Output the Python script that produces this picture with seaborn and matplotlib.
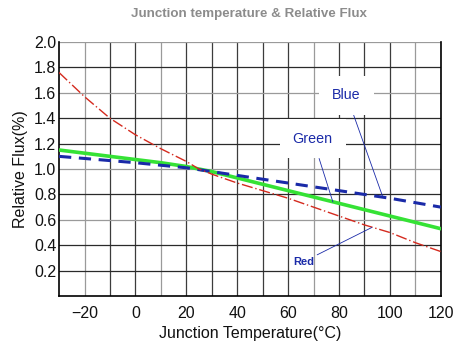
import matplotlib
matplotlib.use("Agg")
import matplotlib.pyplot as plt
import seaborn as sns
import pandas as pd
import numpy as np

sns.set_theme(style="white")
plt.rcParams['font.family'] = ['Liberation Sans', 'DejaVu Sans']

red_t = [-30, -20, -10, 0, 10, 20, 25, 30, 40, 50, 60, 70, 80, 90, 100, 110, 120]
red_v = [1.76, 1.57, 1.40, 1.27, 1.16, 1.06, 1.00, 0.96, 0.89, 0.83, 0.77, 0.70, 0.63, 0.56, 0.50, 0.42, 0.35]

green_t = [-30, -10, 10, 20, 30, 40, 50, 60, 70, 80, 90, 100, 110, 120]
green_v = [1.15, 1.10, 1.05, 1.02, 0.98, 0.93, 0.88, 0.83, 0.78, 0.73, 0.68, 0.63, 0.58, 0.53]

blue_t = [-30, 0, 20, 30, 40, 60, 80, 100, 120]
blue_v = [1.10, 1.05, 1.01, 0.98, 0.95, 0.89, 0.83, 0.77, 0.70]

x_ticks = [-20, 0, 20, 40, 60, 80, 100, 120]
y_ticks = [0.2, 0.4, 0.6, 0.8, 1.0, 1.2, 1.4, 1.6, 1.8, 2.0]

fig = plt.figure(figsize=(4.65, 3.45), dpi=100)
ax = fig.add_axes([0.127, 0.142, 0.821, 0.736])

# grid (mixed grey / dark lines as in the scanned original)
light_v = {-20, 10, 70, 110}
for gx in range(-20, 121, 10):
    ax.axvline(gx, color='#9a9a9a' if gx in light_v else '#3c3c3c', lw=0.9, zorder=0)
light_h = {0.6, 1.0, 1.6, 2.0}
for gy in [0.2, 0.4, 0.6, 0.8, 1.0, 1.2, 1.4, 1.6, 1.8, 2.0]:
    ax.axhline(gy, color='#9a9a9a' if gy in light_h else '#2a2a2a', lw=0.9, zorder=0)

sns.lineplot(x=green_t, y=green_v, ax=ax, color='#35e235', lw=2.6, zorder=3)
sns.lineplot(x=blue_t, y=blue_v, ax=ax, color='#1a2aa8', lw=2.2, zorder=4,
             linestyle=(0, (4, 2.5)))
sns.lineplot(x=red_t, y=red_v, ax=ax, color='#d42a1e', lw=1.0, zorder=5,
             linestyle=(0, (8, 2, 1, 2)))

ax.set_xlim(-30, 120)
ax.set_ylim(0, 2.0)
ax.set_xticks(x_ticks)
ax.set_yticks(y_ticks)
ax.set_yticklabels([f"{v:.1f}" for v in y_ticks])
ax.tick_params(axis='both', labelsize=11.5, length=0, colors='#111111')
ax.tick_params(axis='y', pad=2)
ax.tick_params(axis='x', pad=7)

for s in ['left', 'bottom', 'right']:
    ax.spines[s].set_visible(True)
    ax.spines[s].set_color('black')
    ax.spines[s].set_linewidth(1.2)
ax.spines['top'].set_visible(False)

ax.set_xlabel('Junction Temperature(°C)', fontsize=11.5, color='#111111', labelpad=4)
ax.set_ylabel('Relative Flux(%)', fontsize=11.5, color='#111111', labelpad=4)

fig.text(0.535, 0.958, 'Junction temperature & Relative Flux', ha='center', va='center',
         fontsize=9.6, fontweight='bold', color='#8c8c8c')

lab_col = '#1a2aa8'
ax.annotate('Blue', xy=(97.2, 0.78), xytext=(83, 1.58), ha='center', va='center',
            fontsize=10.3, color=lab_col, zorder=6,
            bbox=dict(boxstyle='square,pad=0.9', fc='white', ec='none'),
            arrowprops=dict(arrowstyle='-', color=lab_col, lw=0.6, shrinkA=0, shrinkB=0))
ax.annotate('Green', xy=(77.6, 0.74), xytext=(69.7, 1.24), ha='center', va='center',
            fontsize=10.3, color=lab_col, zorder=6,
            bbox=dict(boxstyle='square,pad=0.9', fc='white', ec='none'),
            arrowprops=dict(arrowstyle='-', color=lab_col, lw=0.6, shrinkA=0, shrinkB=0))
ax.annotate('Red', xy=(92.9, 0.54), xytext=(66.0, 0.27), ha='center', va='center',
            fontsize=8, fontweight='bold', color=lab_col, zorder=6,
            arrowprops=dict(arrowstyle='-', color=lab_col, lw=0.6, shrinkA=0, shrinkB=0))

fig.savefig('out.png', dpi=100, facecolor='white')
